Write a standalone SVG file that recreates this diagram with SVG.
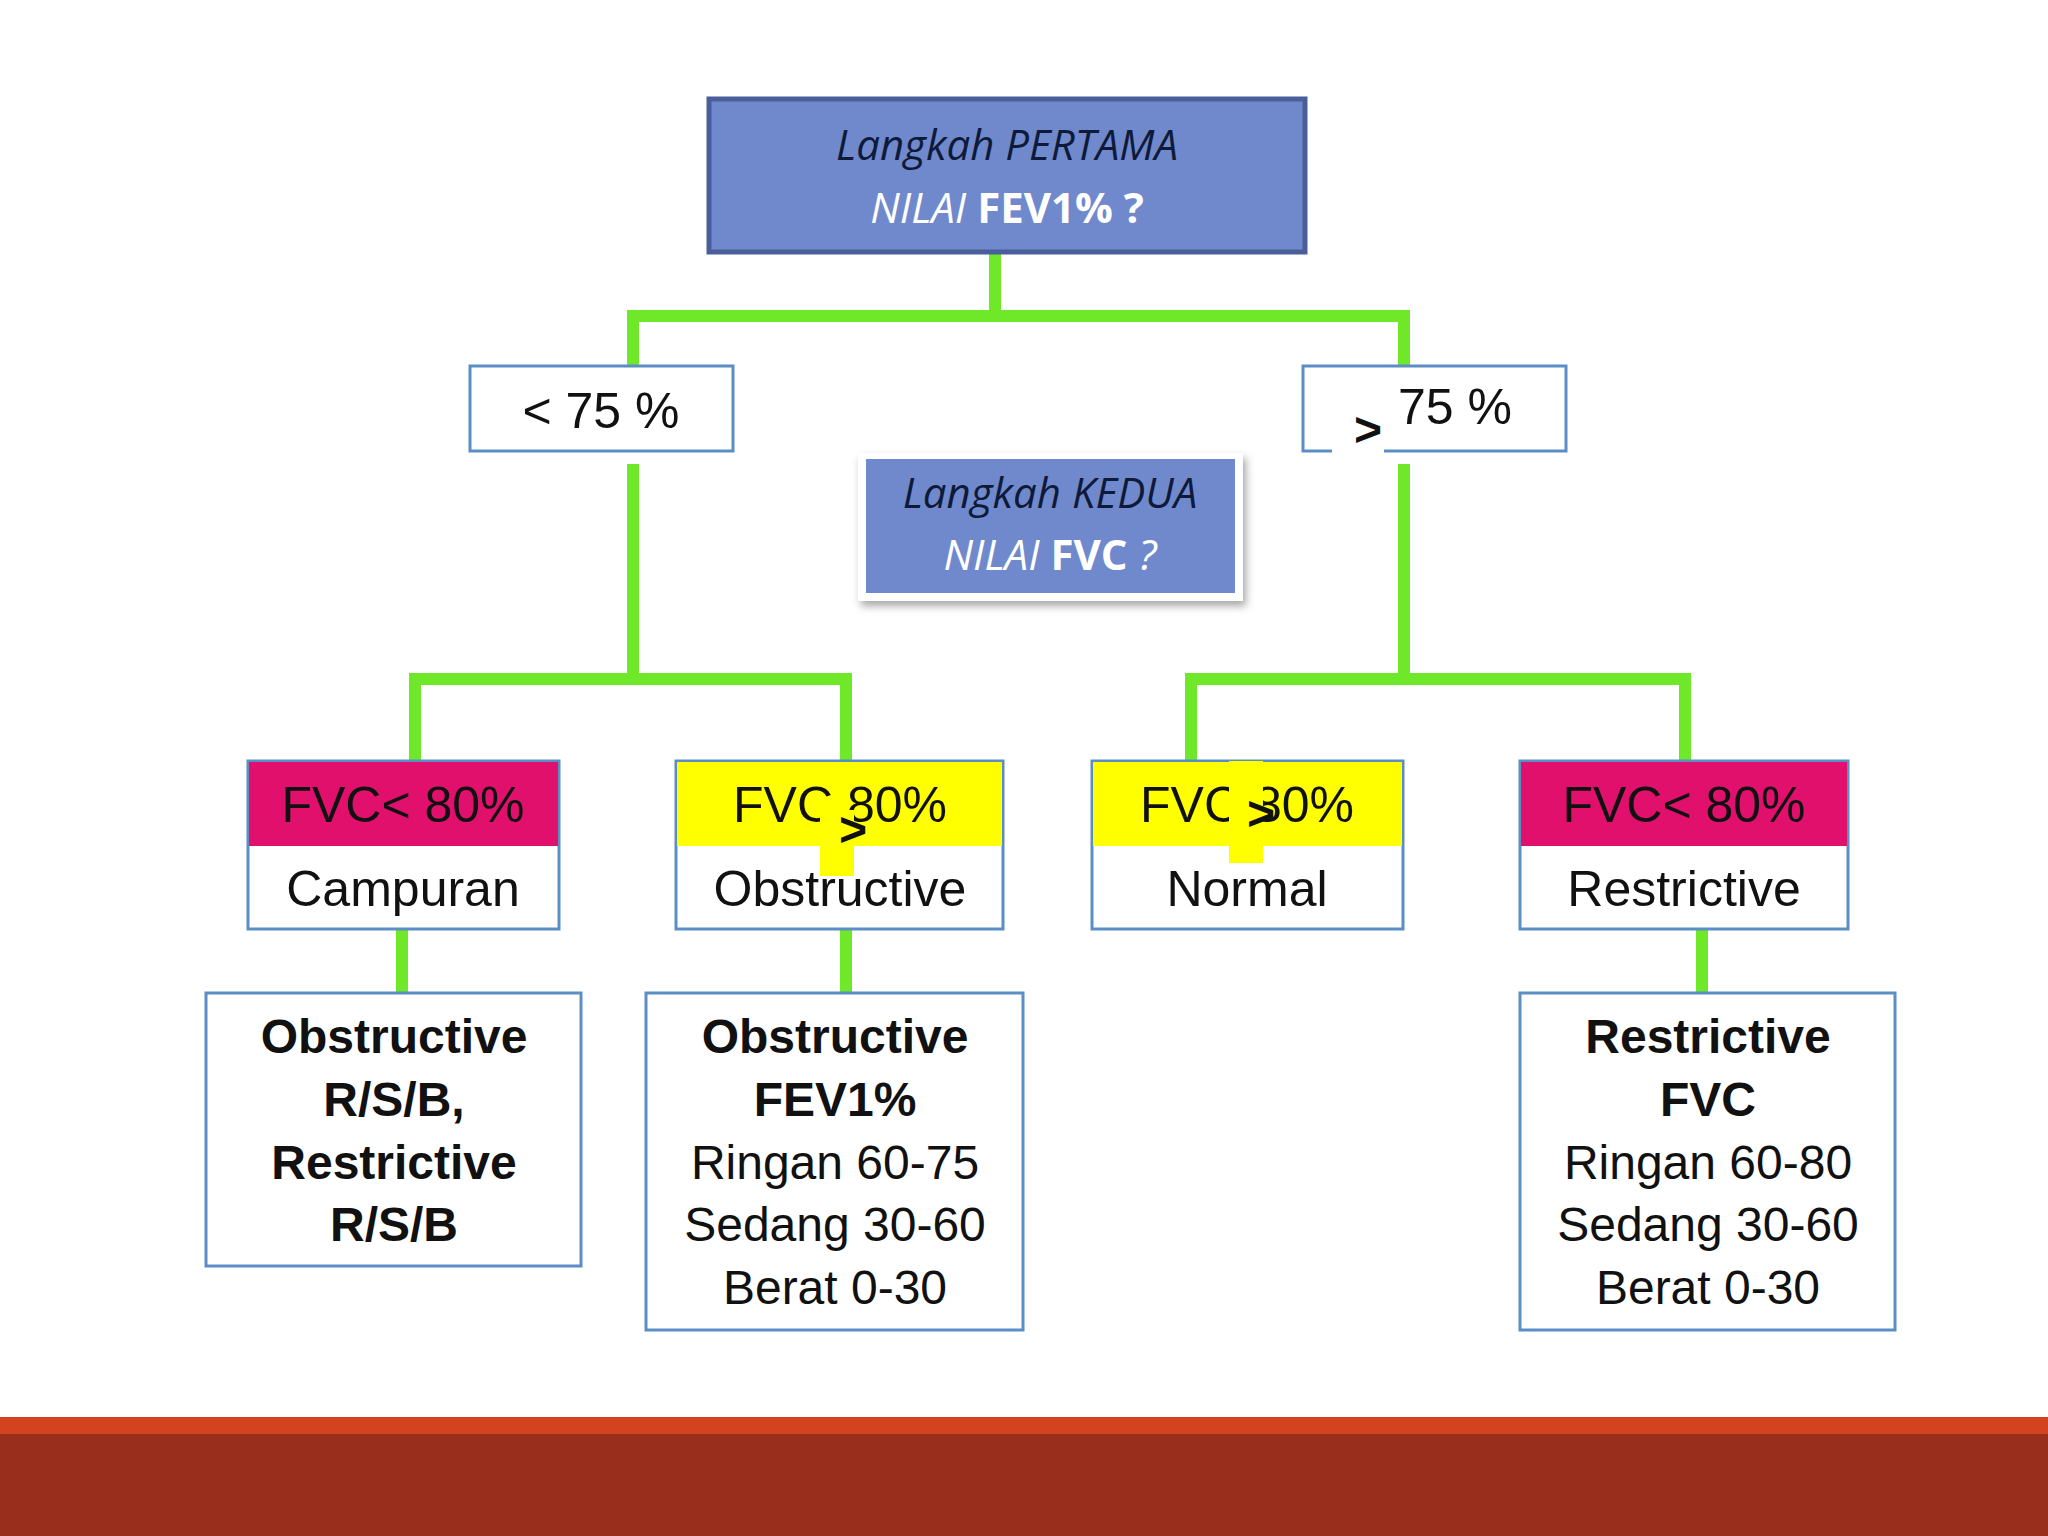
<svg xmlns="http://www.w3.org/2000/svg" width="2048" height="1536" viewBox="0 0 2048 1536">
<style>
.t{font-family:"Liberation Sans",Arial,sans-serif;fill:#111;text-anchor:middle}
.c{font-family:"Open Sans","Liberation Sans",sans-serif;font-style:italic;text-anchor:middle;font-size:42px}
.b{fill:#fff;stroke:#5b8ec4;stroke-width:3}
.g{fill:none;stroke:#6fe82a;stroke-width:12}
</style>
<defs><filter id="sh"><feDropShadow dx="3" dy="5" stdDeviation="4" flood-opacity="0.35"/></filter></defs>
<rect width="2048" height="1536" fill="#fff"/>
<g id="connectors">
<polyline class="g" points="995,235 995,316 633,316 633,366"/>
<polyline class="g" points="995,316 1404,316 1404,366"/>
<polyline class="g" points="633,464 633,679 415,679 415,761"/>
<polyline class="g" points="633,679 846,679 846,761"/>
<polyline class="g" points="1404,464 1404,679 1191,679 1191,761"/>
<polyline class="g" points="1404,679 1685,679 1685,761"/>
<line class="g" x1="402" y1="929" x2="402" y2="993"/>
<line class="g" x1="846" y1="929" x2="846" y2="993"/>
<line class="g" x1="1702" y1="929" x2="1702" y2="993"/>
</g>
<g id="step1">
<rect x="709" y="99" width="596" height="153" fill="#7089cc" stroke="#4b5e9c" stroke-width="5"/>
<text class="c" x="1007" y="160" fill="#0e1a3a">Langkah PERTAMA</text>
<text class="c" x="1007" y="223" fill="#fff">NILAI <tspan font-style="normal" font-weight="bold">FEV1% ?</tspan></text>
</g>
<g id="lt75"><rect class="b" x="470" y="366" width="263" height="85"/><text class="t" x="601" y="428" font-size="50">&lt; 75 %</text></g>
<g id="gt75"><rect class="b" x="1303" y="366" width="263" height="85"/><text class="t" x="1455" y="424" font-size="50">75 %</text>
<rect x="1332" y="405" width="52" height="50" fill="#fff"/><text class="t" x="1368" y="446" font-size="48" font-weight="bold">&gt;</text></g>
<g id="step2">
<rect x="858" y="453" width="385" height="148" fill="#fff" filter="url(#sh)"/>
<rect x="866" y="459" width="369" height="134" fill="#7089cc"/>
<text class="c" x="1050" y="508" fill="#0e1a3a">Langkah KEDUA</text>
<text class="c" x="1050" y="570" fill="#fff">NILAI  <tspan font-style="normal" font-weight="bold">FVC</tspan> ?</text>
</g>
<g id="campuran"><rect class="b" x="248" y="761" width="311" height="168"/><rect x="249" y="762" width="309" height="84" fill="#e0106c"/>
<text class="t" x="403" y="822" font-size="50">FVC&lt; 80%</text><text class="t" x="403" y="906" font-size="50">Campuran</text></g>
<g id="obstructive"><rect class="b" x="676" y="761" width="327" height="168"/><rect x="677" y="762" width="325" height="84" fill="#ffff00"/>
<text class="t" x="840" y="822" font-size="50">FVC  80%</text><rect x="820" y="810" width="34" height="66" fill="#ffff00"/><text class="t" x="840" y="906" font-size="50">Obstructive</text>
<text class="t" x="853" y="846" font-size="48" font-weight="bold">&gt;</text></g>
<g id="normal"><rect class="b" x="1092" y="761" width="311" height="168"/><rect x="1093" y="762" width="309" height="84" fill="#ffff00"/>
<text class="t" x="1247" y="822" font-size="50">FVC  80%</text><rect x="1229" y="761" width="34" height="102" fill="#ffff00"/><text class="t" x="1247" y="906" font-size="50">Normal</text>
<text class="t" x="1261" y="830" font-size="48" font-weight="bold">&gt;</text></g>
<g id="restrictive"><rect class="b" x="1520" y="761" width="328" height="168"/><rect x="1521" y="762" width="326" height="84" fill="#e0106c"/>
<text class="t" x="1684" y="822" font-size="50">FVC&lt; 80%</text><text class="t" x="1684" y="906" font-size="50">Restrictive</text></g>
<g id="res1"><rect class="b" x="206" y="993" width="375" height="273"/>
<g class="t" font-size="48" font-weight="bold"><text x="394" y="1053">Obstructive</text><text x="394" y="1116">R/S/B,</text><text x="394" y="1179">Restrictive</text><text x="394" y="1241">R/S/B</text></g></g>
<g id="res2"><rect class="b" x="646" y="993" width="377" height="337"/>
<g class="t" font-size="48"><text x="835" y="1053" font-weight="bold">Obstructive</text><text x="835" y="1116" font-weight="bold">FEV1%</text><text x="835" y="1179">Ringan 60-75</text><text x="835" y="1241">Sedang 30-60</text><text x="835" y="1304">Berat 0-30</text></g></g>
<g id="res4"><rect class="b" x="1520" y="993" width="375" height="337"/>
<g class="t" font-size="48"><text x="1708" y="1053" font-weight="bold">Restrictive</text><text x="1708" y="1116" font-weight="bold">FVC</text><text x="1708" y="1179">Ringan 60-80</text><text x="1708" y="1241">Sedang 30-60</text><text x="1708" y="1304">Berat 0-30</text></g></g>
<rect x="0" y="1417" width="2048" height="17" fill="#d4431f"/>
<rect x="0" y="1434" width="2048" height="102" fill="#9a2e1c"/>
</svg>
